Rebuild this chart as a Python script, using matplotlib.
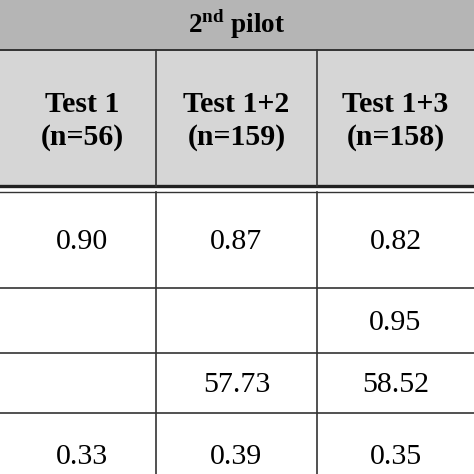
import matplotlib
matplotlib.use("Agg")
import matplotlib.pyplot as plt
from matplotlib.patches import Rectangle

title = "2$^{\\mathregular{nd}}$ pilot"
headers = ["Test 1\n(n=56)", "Test 1+2\n(n=159)", "Test 1+3\n(n=158)"]
rows = [["0.90", "0.87", "0.82"],
        ["", "", "0.95"],
        ["", "57.73", "58.52"],
        ["0.33", "0.39", "0.35"]]

W = H = 474
col_edges = [-5, 156, 317, 480]
row_edges = [192, 288, 353, 413, 480]
row_text_y = [242, 323, 385, 457]

fig = plt.figure(figsize=(4.74, 4.74), dpi=100)
ax = fig.add_axes([0, 0, 1, 1])
ax.set_xlim(0, W); ax.set_ylim(H, 0); ax.axis("off")
plt.rcParams['font.family'] = ['Liberation Serif', 'DejaVu Serif']

ax.add_patch(Rectangle((0, 0), W, 50, color="#b5b5b5", lw=0))
ax.add_patch(Rectangle((0, 50), W, 136, color="#d6d6d6", lw=0))
ax.plot([0, W], [50, 50], color="#333", lw=1.4)
ax.plot([0, W], [186, 186], color="#222", lw=2.4)
ax.plot([0, W], [192, 192], color="#333", lw=1.0)
for y in row_edges[1:-1]:
    ax.plot([0, W], [y, y], color="#333", lw=1.2)
for x in col_edges[1:-1]:
    ax.plot([x, x], [50, 186], color="#333", lw=1.2)
    ax.plot([x, x], [192, H], color="#333", lw=1.2)

ax.text(W / 2, 24, title, ha="center", va="center", fontsize=19.5, fontweight="bold")
for i, h in enumerate(headers):
    cx = (max(col_edges[i], 0) + min(col_edges[i + 1], W)) / 2 + (4 if i == 0 else 0)
    ax.text(cx, 121, h, ha="center", va="center", fontsize=21.5, fontweight="bold", linespacing=1.3)
for r, row in enumerate(rows):
    for i, v in enumerate(row):
        cx = (max(col_edges[i], 0) + min(col_edges[i + 1], W)) / 2 + (4 if i == 0 else 0)
        ax.text(cx, row_text_y[r], v, ha="center", va="center", fontsize=21.5)

fig.savefig("out.png", dpi=100)
